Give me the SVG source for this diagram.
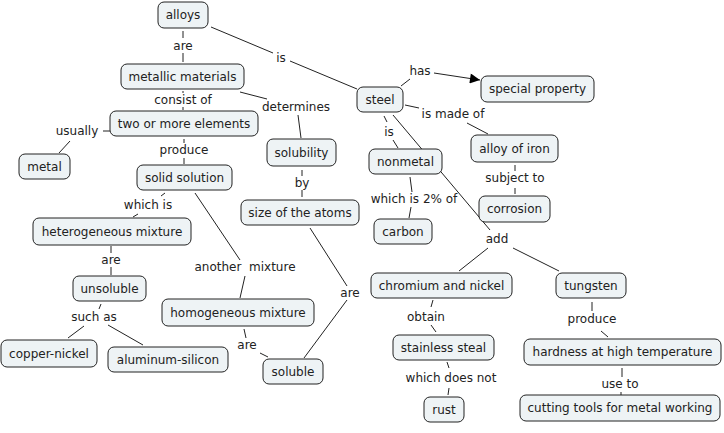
<svg xmlns="http://www.w3.org/2000/svg" width="724" height="433" viewBox="0 0 724 433">
<defs>
<style>
.n rect{fill:#eef3f5;stroke:#222;stroke-width:1}
text{font-family:"DejaVu Sans",Verdana,sans-serif;font-size:12px;fill:#222;text-anchor:middle;dominant-baseline:central}
.c line{stroke:#222;stroke-width:1}
</style>
<marker id="ah" viewBox="0 0 10 10" refX="10" refY="5" markerWidth="12" markerHeight="10" markerUnits="userSpaceOnUse" orient="auto"><path d="M0,0L10,5L0,10z" fill="#000"/></marker>
</defs>
<rect width="724" height="433" fill="#fff"/>
<g id="connectors" class="c">
<line x1="183" y1="31" x2="183" y2="38"/><line x1="183" y1="53" x2="183" y2="62"/>
<line x1="211" y1="27" x2="273" y2="53"/><line x1="290" y1="61" x2="357" y2="89"/>
<line x1="183" y1="91" x2="183" y2="93"/><line x1="183" y1="107" x2="183" y2="110"/>
<line x1="240" y1="92" x2="267" y2="99"/><line x1="298" y1="115" x2="301" y2="138"/>
<line x1="103" y1="131" x2="110" y2="131"/><line x1="70" y1="141" x2="59" y2="153"/>
<line x1="184" y1="139" x2="184" y2="143"/><line x1="184" y1="158" x2="184" y2="164"/>
<line x1="302" y1="170" x2="302" y2="176"/><line x1="302" y1="190" x2="302" y2="197"/>
<line x1="165" y1="193" x2="161" y2="196"/><line x1="138" y1="214" x2="133" y2="217"/>
<line x1="195" y1="193" x2="240" y2="260"/><line x1="245" y1="276" x2="240" y2="298"/>
<line x1="111" y1="246" x2="111" y2="253"/><line x1="111" y1="267" x2="111" y2="275"/>
<line x1="101" y1="304" x2="99" y2="309"/><line x1="84" y1="326" x2="68" y2="338"/><line x1="108" y1="325" x2="143" y2="345"/>
<line x1="244" y1="329" x2="246" y2="338"/><line x1="260" y1="353" x2="268" y2="357"/>
<line x1="310" y1="228" x2="347" y2="286"/><line x1="347" y1="300" x2="304" y2="358"/>
<line x1="401" y1="86" x2="410" y2="79"/><line x1="434" y1="73" x2="480" y2="80" marker-end="url(#ah)"/>
<line x1="405" y1="105" x2="419" y2="108"/><line x1="467" y1="123" x2="488" y2="134"/>
<line x1="384" y1="116" x2="387" y2="122"/><line x1="393" y1="140" x2="398" y2="148"/>
<line x1="393" y1="115" x2="490" y2="230"/>
<line x1="410" y1="177" x2="412" y2="192"/><line x1="411" y1="207" x2="409" y2="218"/>
<line x1="515" y1="165" x2="515" y2="171"/><line x1="515" y1="188" x2="515" y2="194"/>
<line x1="488" y1="248" x2="459" y2="271"/><line x1="513" y1="248" x2="559" y2="271"/>
<line x1="433" y1="300" x2="431" y2="307"/><line x1="431" y1="325" x2="436" y2="332"/>
<line x1="447" y1="362" x2="449" y2="368"/><line x1="449" y1="388" x2="448" y2="395"/>
<line x1="592" y1="302" x2="592" y2="311"/><line x1="601" y1="331" x2="608" y2="337"/>
<line x1="622" y1="368" x2="622" y2="377"/><line x1="621" y1="392" x2="621" y2="397"/>
</g>
<g id="labels">
<text x="183" y="46">are</text>
<text x="281" y="58">is</text>
<text x="183" y="100">consist of</text>
<text x="296" y="107">determines</text>
<text x="77" y="131">usually</text>
<text x="184" y="150">produce</text>
<text x="302" y="183">by</text>
<text x="148" y="205">which is</text>
<text x="245" y="267" xml:space="preserve">another  mixture</text>
<text x="111" y="260">are</text>
<text x="94" y="317">such as</text>
<text x="247" y="345">are</text>
<text x="350" y="293">are</text>
<text x="420" y="71">has</text>
<text x="453" y="114">is made of</text>
<text x="389" y="132">is</text>
<text x="414" y="199">which is 2% of</text>
<text x="515" y="178">subject to</text>
<text x="497" y="239">add</text>
<text x="426" y="317">obtain</text>
<text x="451" y="378">which does not</text>
<text x="592" y="319">produce</text>
<text x="620" y="384">use to</text>
</g>
<g id="alloys" class="n"><rect x="158" y="2" width="50" height="26" rx="6"/><text x="183" y="15">alloys</text></g>
<g id="metallic-materials" class="n"><rect x="121" y="64" width="123" height="25" rx="6"/><text x="182.5" y="76.5">metallic materials</text></g>
<g id="two-or-more-elements" class="n"><rect x="110" y="111" width="148" height="25" rx="6"/><text x="184" y="123.5">two or more elements</text></g>
<g id="metal" class="n"><rect x="19" y="154" width="51" height="25" rx="6"/><text x="44.5" y="166.5">metal</text></g>
<g id="solubility" class="n"><rect x="267" y="139" width="69" height="27" rx="6"/><text x="301.5" y="152.5">solubility</text></g>
<g id="solid-solution" class="n"><rect x="137" y="165" width="95" height="25" rx="6"/><text x="184.5" y="177.5">solid solution</text></g>
<g id="size-of-the-atoms" class="n"><rect x="241" y="200" width="118" height="25" rx="6"/><text x="300" y="212.5">size of the atoms</text></g>
<g id="steel" class="n"><rect x="357" y="87" width="46" height="25" rx="6"/><text x="380" y="99.5">steel</text></g>
<g id="special-property" class="n"><rect x="481" y="76" width="113" height="26" rx="6"/><text x="537.5" y="89">special property</text></g>
<g id="nonmetal" class="n"><rect x="369" y="149" width="73" height="25" rx="6"/><text x="405.5" y="161.5">nonmetal</text></g>
<g id="alloy-of-iron" class="n"><rect x="471" y="135" width="87" height="27" rx="6"/><text x="514.5" y="148.5">alloy of iron</text></g>
<g id="corrosion" class="n"><rect x="479" y="196" width="71" height="26" rx="6"/><text x="514.5" y="209">corrosion</text></g>
<g id="heterogeneous-mixture" class="n"><rect x="33" y="218" width="158" height="27" rx="6"/><text x="112" y="231.5">heterogeneous mixture</text></g>
<g id="unsoluble" class="n"><rect x="73" y="276" width="73" height="25" rx="6"/><text x="109.5" y="288.5">unsoluble</text></g>
<g id="homogeneous-mixture" class="n"><rect x="162" y="299" width="152" height="27" rx="6"/><text x="238" y="312.5">homogeneous mixture</text></g>
<g id="copper-nickel" class="n"><rect x="1" y="340" width="96" height="27" rx="6"/><text x="49" y="353.5">copper-nickel</text></g>
<g id="aluminum-silicon" class="n"><rect x="108" y="347" width="120" height="25" rx="6"/><text x="168" y="359.5">aluminum-silicon</text></g>
<g id="soluble" class="n"><rect x="263" y="359" width="60" height="25" rx="6"/><text x="293" y="371.5">soluble</text></g>
<g id="carbon" class="n"><rect x="374" y="219" width="58" height="25" rx="6"/><text x="403" y="231.5">carbon</text></g>
<g id="chromium-and-nickel" class="n"><rect x="371" y="273" width="141" height="25" rx="6"/><text x="441.5" y="285.5">chromium and nickel</text></g>
<g id="tungsten" class="n"><rect x="556" y="273" width="70" height="25" rx="6"/><text x="591" y="285.5">tungsten</text></g>
<g id="stainless-steal" class="n"><rect x="393" y="335" width="101" height="25" rx="6"/><text x="443.5" y="347.5">stainless steal</text></g>
<g id="hardness-at-high-temperature" class="n"><rect x="524" y="339" width="197" height="26" rx="6"/><text x="622.5" y="352">hardness at high temperature</text></g>
<g id="rust" class="n"><rect x="424" y="397" width="40" height="25" rx="6"/><text x="444" y="409.5">rust</text></g>
<g id="cutting-tools" class="n"><rect x="520" y="395" width="200" height="26" rx="6"/><text x="620" y="408">cutting tools for metal working</text></g>
</svg>
